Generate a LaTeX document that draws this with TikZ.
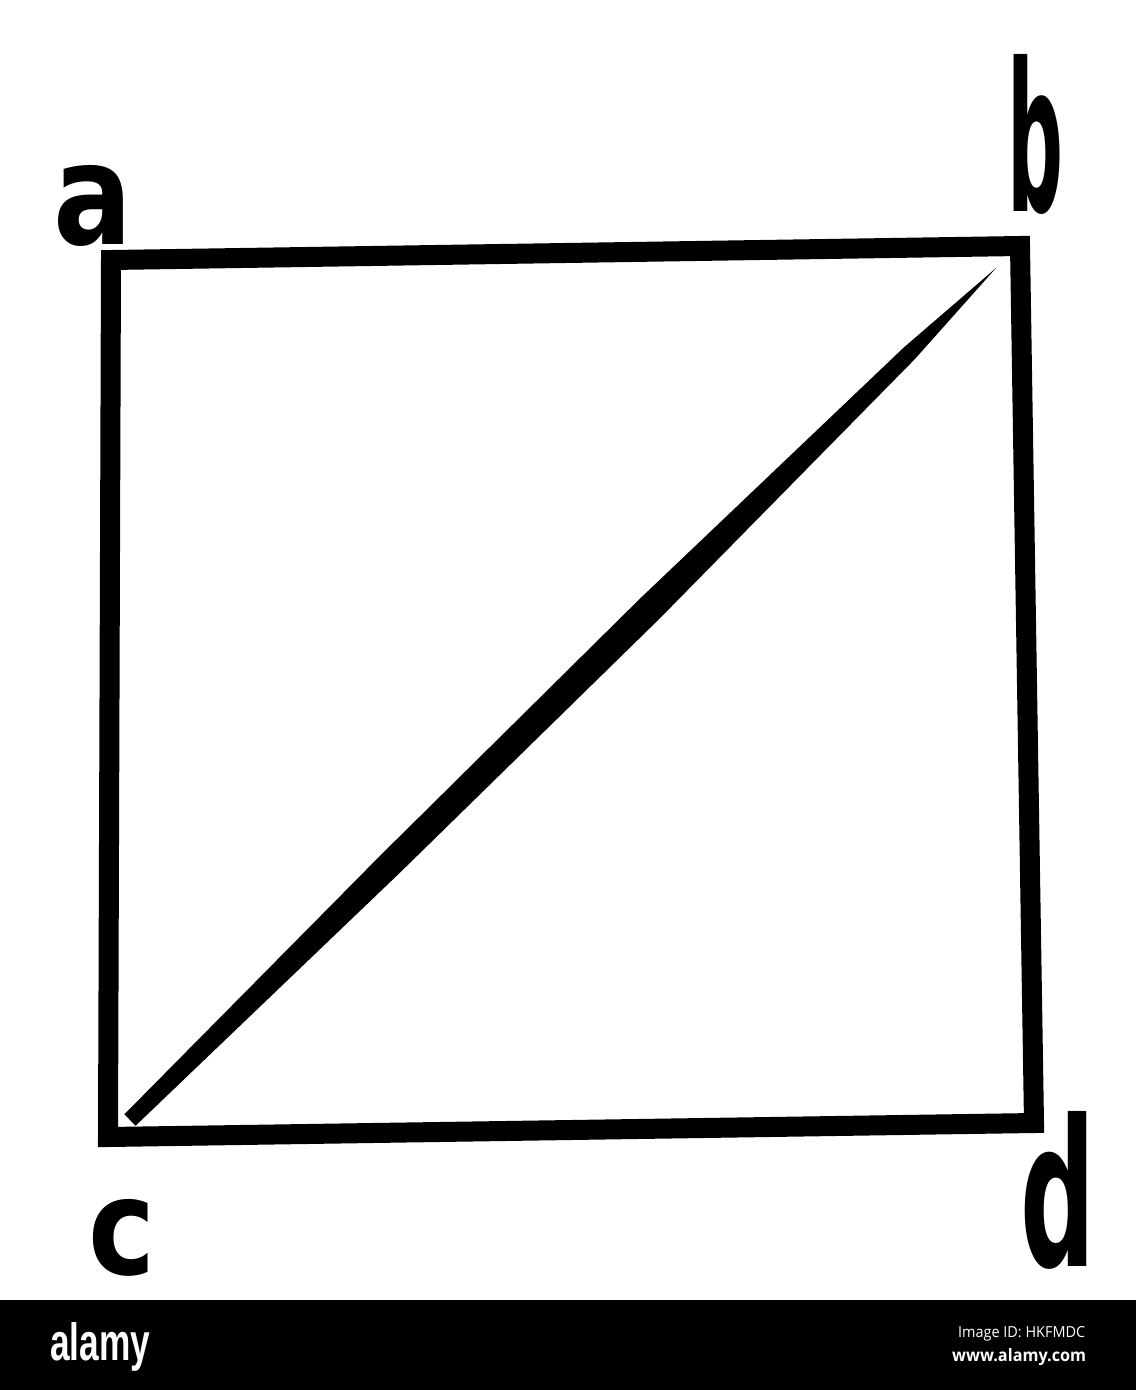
\documentclass[tikz,border=0pt]{standalone}
\usepackage{fontspec}
\setmainfont{DejaVu Sans}
\newfontfamily\logofont{Liberation Sans}
\newfontfamily\idfont{Open Sans}
\usetikzlibrary{calc}
\tikzset{
  edge/.style={line width=20pt, line join=miter, line cap=rect},
  letter/.style={anchor=south west, inner sep=0pt, text=black},
  bartext/.style={anchor=base west, inner sep=0pt, text=white}
}
\begin{document}
\begin{tikzpicture}[x=1pt,y=-1pt]
\useasboundingbox (0,0) rectangle (1136,1390);
\fill[white] (0,0) rectangle (1136,1390);
% corners
\coordinate (a) at (111,260);
\coordinate (b) at (1020,246);
\coordinate (c) at (108,1137);
\coordinate (d) at (1034,1123);
% square
\draw[edge] (a) -- (b) -- (d) -- (c) -- cycle;
% tapered diagonal
\coordinate (c0) at (130,1120);
\coordinate (b0) at (996,268);
\fill[black, line join=round]
  ($(c0)!8pt!90:(b0)$)
  -- ($(c0)!0.3!(b0)!13pt!90:(b0)$)
  -- ($(c0)!0.6!(b0)!14pt!90:(b0)$)
  -- ($(c0)!0.9!(b0)!8pt!90:(b0)$)
  -- (b0)
  -- ($(c0)!0.9!(b0)!8pt!-90:(b0)$)
  -- ($(c0)!0.6!(b0)!14pt!-90:(b0)$)
  -- ($(c0)!0.3!(b0)!13pt!-90:(b0)$)
  -- ($(c0)!8pt!-90:(b0)$) -- cycle;
% labels
\node[letter] (la) at (53,247) {\resizebox{79pt}{79pt}{\bfseries a}};
\node[letter] (lb) at (1007,215) {\resizebox{56pt}{157pt}{\bfseries b}};
\node[letter] (lc) at (88,1277) {\resizebox{67pt}{75pt}{\bfseries c}};
\node[letter] (ld) at (1020,1270) {\resizebox{75pt}{155pt}{\bfseries d}};
% bottom bar
\fill[black] (0,1300) rectangle (1136,1390);
\node[bartext] (logo) at (50,1360) {\resizebox{100pt}{38pt}{\logofont\bfseries alamy}};
\node[bartext] (imgid) at (958,1337) {\resizebox{127pt}{11pt}{\idfont Image ID: HKFMDC}};
\node[bartext] (www) at (952,1361) {\resizebox{134pt}{13pt}{\idfont\bfseries www.alamy.com}};
\end{tikzpicture}
\end{document}
